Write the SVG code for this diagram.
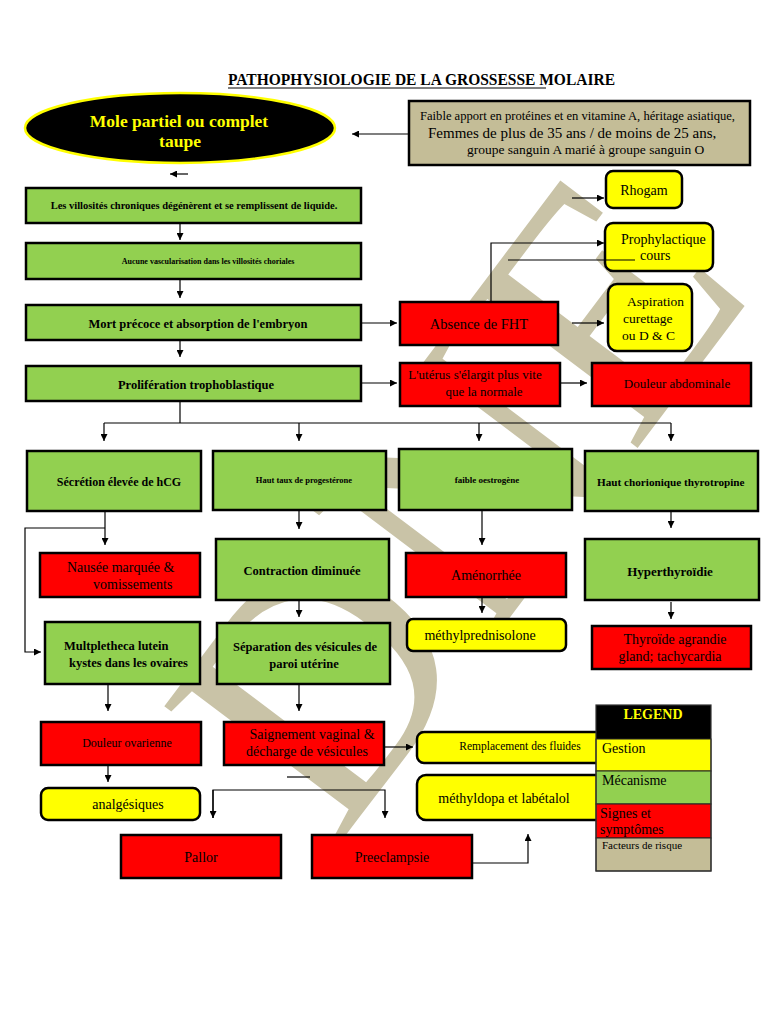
<svg xmlns="http://www.w3.org/2000/svg" width="768" height="1024" viewBox="0 0 768 1024">
<defs>
<marker id="ah" viewBox="0 0 10 10" refX="10" refY="5" markerWidth="7" markerHeight="7" markerUnits="userSpaceOnUse" orient="auto"><path d="M0,0 L10,5 L0,10 z" fill="#000"/></marker>
<style>
.t{font-family:"Liberation Serif","Times New Roman",serif;fill:#000}
.b{font-weight:bold}
.g{fill:#92d050;stroke:#000;stroke-width:2.5}
.r{fill:#ff0000;stroke:#000;stroke-width:2.5}
.y{fill:#ffff00;stroke:#000;stroke-width:2.5}
.c line,.c path,.c polyline{stroke:#000;stroke-width:1.2;fill:none}
.a{marker-end:url(#ah)}
</style>
</defs>
<rect width="768" height="1024" fill="#fff"/>
<!-- watermark -->
<text x="0" y="0" transform="translate(455,500) rotate(-53)" text-anchor="middle" font-family="Liberation Serif,serif" font-size="340" fill="#c9c3a7" dominant-baseline="central">DNE</text>

<!-- title -->
<text class="t b" x="228" y="85" font-size="16" textLength="387" lengthAdjust="spacingAndGlyphs">PATHOPHYSIOLOGIE DE LA GROSSESSE MOLAIRE</text>
<line x1="228" y1="88" x2="546" y2="88" stroke="#000" stroke-width="1"/>

<g id="mole">
<ellipse cx="180" cy="128" rx="155" ry="35" fill="#000" stroke="#ffff00" stroke-width="2.5"/>
<text class="t b" x="179" y="127" font-size="17.5" text-anchor="middle" style="fill:#ffff00">Mole partiel ou complet</text>
<text class="t b" x="180" y="147" font-size="17.5" text-anchor="middle" style="fill:#ffff00">taupe</text>
</g>
<g id="risque">
<rect x="409" y="101" width="341" height="64" fill="#c4bd97" stroke="#000" stroke-width="2.5"/>
<text class="t" x="420" y="120" font-size="13" textLength="315" lengthAdjust="spacingAndGlyphs">Faible apport en protéines et en vitamine A, héritage asiatique,</text>
<text class="t" x="428" y="138" font-size="15">Femmes de plus de 35 ans / de moins de 25 ans,</text>
<text class="t" x="467" y="154" font-size="13.5">groupe sanguin A marié à groupe sanguin O</text>
</g>
<g id="n1"><rect class="g" x="26" y="188" width="335" height="35"/>
<text class="t b" x="194" y="209" font-size="10.5" text-anchor="middle">Les villosités chroniques dégénèrent et se remplissent de liquide.</text></g>
<g id="n2"><rect class="g" x="26" y="243" width="335" height="36"/>
<text class="t b" x="208" y="264" font-size="8" text-anchor="middle">Aucune vascularisation dans les villosités choriales</text></g>
<g id="n3"><rect class="g" x="26" y="305" width="335" height="35"/>
<text class="t b" x="198" y="328" font-size="12.5" text-anchor="middle">Mort précoce et absorption de l'embryon</text></g>
<g id="n4"><rect class="g" x="26" y="366" width="335" height="35"/>
<text class="t b" x="196" y="389" font-size="12.5" text-anchor="middle">Prolifération trophoblastique</text></g>
<g id="fht"><rect class="r" x="400" y="302" width="158" height="43"/>
<text class="t" x="479" y="329" font-size="14.5" text-anchor="middle">Absence de FHT</text></g>
<g id="uterus"><rect class="r" x="400" y="363" width="160" height="43"/>
<text class="t" x="475" y="379" font-size="13" text-anchor="middle">L'utérus s'élargit plus vite</text>
<text class="t" x="484" y="396" font-size="13" text-anchor="middle">que la normale</text></g>
<g id="abdo"><rect class="r" x="592" y="363" width="159" height="43"/>
<text class="t" x="677" y="388" font-size="13" text-anchor="middle">Douleur abdominale</text></g>
<g id="rhogam"><rect class="y" x="606" y="171" width="76" height="37" rx="7"/>
<text class="t" x="644" y="195" font-size="14" text-anchor="middle">Rhogam</text></g>
<g id="prophy"><rect class="y" x="605" y="223" width="108" height="48" rx="8"/>
<text class="t" x="621" y="244" font-size="14">Prophylactique</text>
<text class="t" x="640" y="260" font-size="14">cours</text></g>
<g id="aspi"><rect class="y" x="608" y="284" width="84" height="67" rx="9"/>
<text class="t" x="627" y="306" font-size="13.5">Aspiration</text>
<text class="t" x="623" y="323" font-size="13.5">curettage</text>
<text class="t" x="622" y="340" font-size="13.5">ou D &amp; C</text></g>

<g id="hcg"><rect class="g" x="27" y="451" width="174" height="60"/>
<text class="t b" x="119" y="486" font-size="12" text-anchor="middle">Sécrétion élevée de hCG</text></g>
<g id="proges"><rect class="g" x="213" y="451" width="173" height="59"/>
<text class="t b" x="304" y="483" font-size="8.5" text-anchor="middle">Haut taux de progestérone</text></g>
<g id="oestro"><rect class="g" x="399" y="449" width="173" height="61"/>
<text class="t b" x="487" y="483" font-size="9" text-anchor="middle">faible oestrogène</text></g>
<g id="thyro"><rect class="g" x="585" y="451" width="173" height="60"/>
<text class="t b" x="597" y="486" font-size="11.2">Haut chorionique thyrotropine</text></g>

<g id="nausee"><rect class="r" x="40" y="553" width="160" height="44"/>
<text class="t" x="67" y="572" font-size="14">Nausée marquée &amp;</text>
<text class="t" x="93" y="589" font-size="14">vomissements</text></g>
<g id="multi"><rect class="g" x="45" y="622" width="155" height="62"/>
<text class="t b" x="64" y="650" font-size="12.5">Multpletheca lutein</text>
<text class="t b" x="69" y="667" font-size="12.5">kystes dans les ovaires</text></g>
<g id="contr"><rect class="g" x="216" y="539" width="173" height="61"/>
<text class="t b" x="302" y="575" font-size="12.5" text-anchor="middle">Contraction diminuée</text></g>
<g id="separ"><rect class="g" x="217" y="623" width="173" height="61"/>
<text class="t b" x="305" y="651" font-size="12.5" text-anchor="middle">Séparation des vésicules de</text>
<text class="t b" x="304" y="668" font-size="12.5" text-anchor="middle">paroi utérine</text></g>
<g id="amen"><rect class="r" x="406" y="553" width="160" height="44"/>
<text class="t" x="486" y="580" font-size="14" text-anchor="middle">Aménorrhée</text></g>
<g id="methylp"><rect class="y" x="407" y="619" width="159" height="32" rx="6"/>
<text class="t" x="480" y="640" font-size="14" text-anchor="middle">méthylprednisolone</text></g>
<g id="hyper"><rect class="g" x="585" y="539" width="174" height="61"/>
<text class="t b" x="670" y="576" font-size="13" text-anchor="middle">Hyperthyroïdie</text></g>
<g id="thyagr"><rect class="r" x="592" y="626" width="159" height="43"/>
<text class="t" x="675" y="644" font-size="14" text-anchor="middle">Thyroïde agrandie</text>
<text class="t" x="670" y="661" font-size="14" text-anchor="middle">gland; tachycardia</text></g>

<g id="douov"><rect class="r" x="41" y="722" width="160" height="43"/>
<text class="t" x="127" y="747" font-size="12" text-anchor="middle">Douleur ovarienne</text></g>
<g id="analg"><rect class="y" x="41" y="788" width="159" height="32" rx="7"/>
<text class="t" x="128" y="809" font-size="14" text-anchor="middle">analgésiques</text></g>
<g id="saign"><rect class="r" x="224" y="722" width="160" height="43"/>
<text class="t" x="312" y="739" font-size="14" text-anchor="middle">Saignement vaginal &amp;</text>
<text class="t" x="307" y="756" font-size="14" text-anchor="middle">décharge de vésicules</text></g>
<g id="pallor"><rect class="r" x="121" y="835" width="160" height="43"/>
<text class="t" x="201" y="862" font-size="14" text-anchor="middle">Pallor</text></g>
<g id="preec"><rect class="r" x="312" y="835" width="160" height="43"/>
<text class="t" x="392" y="862" font-size="14" text-anchor="middle">Preeclampsie</text></g>
<g id="rempl"><rect class="y" x="417" y="732" width="195" height="31" rx="7"/>
<text class="t" x="520" y="750" font-size="11.5" text-anchor="middle">Remplacement des fluides</text></g>
<g id="methyld"><rect class="y" x="417" y="775" width="195" height="45" rx="9"/>
<text class="t" x="504" y="803" font-size="14" text-anchor="middle">méthyldopa et labétalol</text></g>

<g id="legend">
<rect x="596" y="705" width="115" height="34" fill="#000"/>
<rect x="596" y="739" width="115" height="32" fill="#ffff00" stroke="#222" stroke-width="1"/>
<rect x="596" y="771" width="115" height="33" fill="#92d050" stroke="#222" stroke-width="1"/>
<rect x="596" y="804" width="115" height="34" fill="#ff0000" stroke="#222" stroke-width="1"/>
<rect x="596" y="838" width="115" height="33" fill="#c4bd97" stroke="#222" stroke-width="1"/>
<rect x="596" y="705" width="115" height="166" fill="none" stroke="#333" stroke-width="1.2"/>
<text class="t b" x="653" y="719" font-size="14" text-anchor="middle" style="fill:#ffff00">LEGEND</text>
<text class="t" x="602" y="753" font-size="14">Gestion</text>
<text class="t" x="602" y="785" font-size="14">Mécanisme</text>
<text class="t" x="600" y="818" font-size="14">Signes et</text>
<text class="t" x="600" y="834" font-size="14">symptômes</text>
<text class="t" x="602" y="849" font-size="11">Facteurs de risque</text>
</g>

<g id="connectors" class="c">
<line class="a" x1="408" y1="134" x2="352" y2="134"/>
<line class="a" x1="188" y1="174" x2="170" y2="174"/>
<line class="a" x1="180" y1="223" x2="180" y2="240"/>
<line class="a" x1="180" y1="279" x2="180" y2="298"/>
<line class="a" x1="180" y1="340" x2="180" y2="357"/>
<line class="a" x1="361" y1="323" x2="397" y2="323"/>
<line class="a" x1="361" y1="383" x2="397" y2="383"/>
<line class="a" x1="572" y1="323" x2="604" y2="323"/>
<line class="a" x1="560" y1="383" x2="587" y2="383"/>
<line class="a" x1="572" y1="198" x2="604" y2="198"/>
<polyline class="a" points="491,302 491,243 604,243"/>
<line x1="508" y1="260" x2="635" y2="260"/>
<line x1="180" y1="401" x2="180" y2="423"/>
<line x1="104" y1="423" x2="671" y2="423"/>
<line class="a" x1="104" y1="423" x2="104" y2="441"/>
<line class="a" x1="299" y1="423" x2="299" y2="441"/>
<line class="a" x1="479" y1="423" x2="479" y2="441"/>
<line class="a" x1="671" y1="423" x2="671" y2="441"/>
<line class="a" x1="105" y1="511" x2="105" y2="545"/>
<polyline class="a" points="105,528 25,528 25,652 41,652"/>
<line class="a" x1="299" y1="511" x2="299" y2="529"/>
<line class="a" x1="299" y1="600" x2="299" y2="617"/>
<line class="a" x1="482" y1="510" x2="482" y2="545"/>
<line class="a" x1="482" y1="597" x2="482" y2="613"/>
<line class="a" x1="671" y1="511" x2="671" y2="528"/>
<line class="a" x1="671" y1="602" x2="671" y2="619"/>
<line class="a" x1="108" y1="684" x2="108" y2="711"/>
<line class="a" x1="108" y1="765" x2="108" y2="782"/>
<line class="a" x1="299" y1="684" x2="299" y2="711"/>
<line class="a" x1="384" y1="747" x2="413" y2="747"/>
<line x1="287" y1="777" x2="310" y2="777"/>
<polyline class="a" points="213,818 213,790 385,790 385,818"/>
<line class="a" x1="213" y1="790" x2="213" y2="818"/>
<polyline class="a" points="472,863 528,863 528,834"/>
</g>
</svg>
